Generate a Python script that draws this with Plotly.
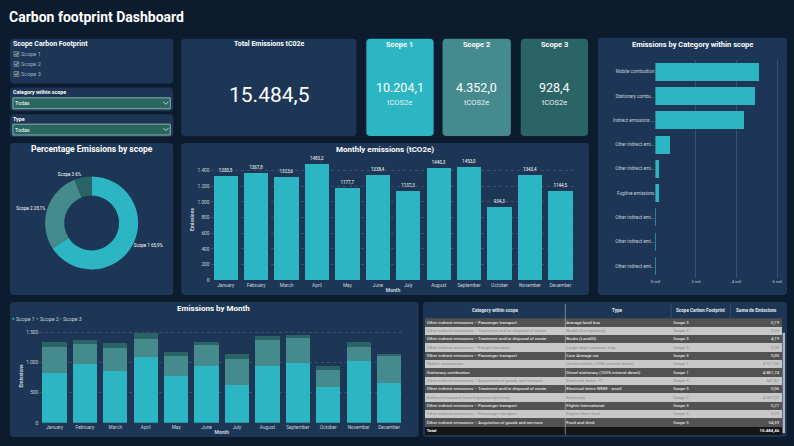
import plotly.graph_objects as go

W, H = 794, 446

# ---------------- data ----------------
months = ["January", "February", "March", "April", "May", "June", "July",
          "August", "September", "October", "November", "December"]
monthly_total = [1330.5, 1367.8, 1323.6, 1483.2, 1177.7, 1338.4, 1137.3,
                 1440.3, 1453.0, 934.3, 1343.4, 1144.5]
scope1_month = [819, 967, 857, 1082, 769, 934, 621, 934, 989, 588, 1022, 659]
scope2_month = [439, 341, 374, 308, 330, 346, 428, 440, 412, 286, 231, 445]
scope3_month = [72, 60, 93, 93, 79, 58, 88, 66, 52, 60, 90, 40]

scope_names = ["Scope 1", "Scope 2", "Scope 3"]
scope_totals = [10204.1, 4352.0, 928.4]
total_emissions = 15484.5

cat_labels = ["Mobile combustion", "Stationary combu...", "Indirect emissions ...",
              "Other indirect emi...", "Other indirect emi...", "Fugitive emissions",
              "Other indirect emi...", "Other indirect emi...", "Other indirect emi..."]
cat_values = [5100, 4930, 4352, 720, 180, 174, 15, 9, 4]
cat_tickvals = [0, 2000, 4000, 6000]
cat_ticktext = ["0 mil", "2 mil", "4 mil", "6 mil"]

tbl_headers = ["Category within scope", "Type", "Scope Carbon Footprint", "Suma de Emissions"]
tbl_category = [
    "Other indirect emissions – Passenger transport",
    "Other indirect emissions – Treatment and/or disposal of waste",
    "Other indirect emissions – Treatment and/or disposal of waste",
    "Other indirect emissions – Freight transport",
    "Other indirect emissions – Passenger transport",
    "Mobile combustion",
    "Stationary combustion",
    "Other indirect emissions – Acquisition of goods and services",
    "Other indirect emissions – Treatment and/or disposal of waste",
    "Indirect emissions from imported electricity",
    "Other indirect emissions – Passenger transport",
    "Other indirect emissions – Passenger transport",
    "Other indirect emissions – Acquisition of goods and services",
]
tbl_type = ["Average local bus", "Books (Composting)", "Books (Landfill)",
            "Cargo ship Container ship", "Cars Average car",
            "Diesel mobile (100% mineral diesel)", "Diesel stationary (100% mineral diesel)",
            "Electrical items - IT", "Electrical items WEEE - small", "Electricity",
            "Flights International", "Flights Short-haul", "Food and drink"]
tbl_scope = ["Scope 3", "Scope 3", "Scope 3", "Scope 3", "Scope 3", "Scope 1", "Scope 1",
             "Scope 3", "Scope 3", "Scope 2", "Scope 3", "Scope 3", "Scope 3"]
tbl_value = ["0,19", "0,03", "4,19", "0,00", "0,00", "4.911,56", "4.861,74",
             "347,81", "0,06", "4.351,97", "0,21", "0,29", "54,59"]
tbl_total = "15.484,46"

# ---------------- style ----------------
PAGE = "#0d1b2e"
PANEL = "#1d3655"
C1 = "#2cb6c3"
C2 = "#458b8e"
C3 = "#2b6466"
TXT = "#ffffff"
AX = "#c9d3dd"
FONT = "Roboto"


def px(x):
    return x / W


def py(y):
    return 1 - y / H


def eu(v, d=1):
    s = f"{v:,.{d}f}"
    return s.replace(",", "X").replace(".", ",").replace("X", ".")


def rrect(x0, y0, x1, y1, r=4):
    X = lambda v: px(v)
    Y = lambda v: py(v)
    return (f"M {X(x0+r)},{Y(y0)} L {X(x1-r)},{Y(y0)} Q {X(x1)},{Y(y0)} {X(x1)},{Y(y0+r)} "
            f"L {X(x1)},{Y(y1-r)} Q {X(x1)},{Y(y1)} {X(x1-r)},{Y(y1)} "
            f"L {X(x0+r)},{Y(y1)} Q {X(x0)},{Y(y1)} {X(x0)},{Y(y1-r)} "
            f"L {X(x0)},{Y(y0+r)} Q {X(x0)},{Y(y0)} {X(x0+r)},{Y(y0)} Z")


shapes = []


def panel(x0, y0, x1, y1, color=PANEL, r=4):
    shapes.append(dict(type="path", path=rrect(x0, y0, x1, y1, r), xref="paper", yref="paper",
                       fillcolor=color, line=dict(width=0), layer="below"))


annotations = []


def txt(x, y, s, size=7, color=TXT, xanchor="center", bold=False, family=FONT):
    annotations.append(dict(x=px(x), y=py(y), xref="paper", yref="paper", text=(f"<b>{s}</b>" if bold else s),
                            showarrow=False, xanchor=xanchor, yanchor="middle", borderpad=0,
                            font=dict(size=size, color=color, family=family)))


# panels
panel(5, 39, 170, 84)
panel(5, 88, 170, 112)
panel(5, 115, 170, 138)
panel(178, 39, 355, 137)
panel(365, 39, 433, 137, C1)
panel(442, 39, 511, 137, C2)
panel(521, 39, 589, 137, C3)
panel(599, 38, 790, 297)
panel(5, 144, 170, 297)
panel(178, 144, 590, 297)
panel(5, 304, 418, 440)
panel(422, 304, 790, 440)

# page title
txt(3, 17, "Carbon footprint Dashboard", size=14, xanchor="left", bold=True)

# slicers
txt(7, 44.5, "Scope Carbon Footprint", size=7, xanchor="left", bold=True)
for i, nm in enumerate(scope_names):
    yy = 54.5 + i * 10
    shapes.append(dict(type="rect", xref="paper", yref="paper", x0=px(9), x1=px(14), y0=py(yy + 2.5), y1=py(yy - 2.5),
                       fillcolor="#3c4650", line=dict(color="#9aa3ad", width=0.6)))
    shapes.append(dict(type="path", xref="paper", yref="paper",
                       path=f"M {px(10)},{py(yy)} L {px(11.3)},{py(yy+1.3)} L {px(13.2)},{py(yy-1.6)}",
                       line=dict(color="#e8eef2", width=0.7)))
    txt(15.5, yy, nm, size=5.5, color="#9fb0c0", xanchor="left")
for (ty, label, dy) in [(93, "Category within scope", 104), (119.5, "Type", 130.5)]:
    txt(7, ty, label, size=5.3, xanchor="left", bold=True)
    shapes.append(dict(type="rect", xref="paper", yref="paper", x0=px(8), x1=px(167), y0=py(dy + 5.5), y1=py(dy - 5.5),
                       fillcolor="#2a675f", line=dict(color="#a9c8c2", width=0.8)))
    txt(9, dy, "Todas", size=5.3, xanchor="left")
    shapes.append(dict(type="path", xref="paper", yref="paper",
                       path=f"M {px(160)},{py(dy-1.5)} L {px(162.5)},{py(dy+1)} L {px(165)},{py(dy-1.5)}",
                       line=dict(color="#e0e8ee", width=0.8)))

# KPI cards
txt(266.5, 44.5, "Total Emissions tC02e", size=7, bold=True)
txt(266.5, 96, eu(total_emissions), size=21)
for (cx, nm, v) in [(399, "Scope 1", scope_totals[0]), (476.5, "Scope 2", scope_totals[1]),
                    (555, "Scope 3", scope_totals[2])]:
    txt(cx, 45, nm, size=7.5, bold=True)
    txt(cx, 88.5, eu(v), size=12.5)
    txt(cx, 103, "tCOS2e", size=7.5, color="#e4eef2")

# chart titles
txt(694.5, 45, "Emissions by Category within scope", size=7.5, bold=True)
txt(88, 150.5, "Percentage Emissions by scope", size=8.5, bold=True)
txt(384, 150.5, "Monthly emissions (tCO2e)", size=8, bold=True)
txt(211, 310.5, "Emissions by Month", size=8, bold=True)

# legend for stacked chart
lx = 6
for nm, col in zip(scope_names, [C1, C2, C3]):
    txt(lx, 321, "●", size=4.5, color=col, xanchor="left")
    txt(lx + 4, 321, nm, size=5.2, color=AX, xanchor="left")
    lx += 24

fig = go.Figure()

# monthly emissions
fig.add_trace(go.Bar(x=months, y=monthly_total, marker=dict(color=C1, line=dict(width=0)),
                     texttemplate="%{y:.1f}", textposition="outside", cliponaxis=False,
                     textfont=dict(size=4.5, color=TXT, family=FONT), xaxis="x", yaxis="y",
                     showlegend=False))

# stacked by month
for nm, vals, col in zip(scope_names, [scope1_month, scope2_month, scope3_month], [C1, C2, C3]):
    fig.add_trace(go.Bar(x=months, y=vals, name=nm, marker=dict(color=col, line=dict(width=0)),
                         xaxis="x2", yaxis="y2", showlegend=False))

# category
fig.add_trace(go.Bar(y=list(range(len(cat_values))), x=cat_values, orientation="h",
                     marker=dict(color=C1, line=dict(width=0)), xaxis="x3", yaxis="y3",
                     showlegend=False, width=0.74))

# donut
pct = [v / sum(scope_totals) * 100 for v in scope_totals]
pct_txt = [f"{n} " + (f"{p:.1f}".replace(".", ",").replace(",0", "")) + "%" for n, p in zip(scope_names, pct)]
fig.add_trace(go.Pie(values=scope_totals, labels=scope_names, text=pct_txt, textinfo="text",
                     textposition="outside", hole=0.59, sort=False, direction="clockwise", rotation=0,
                     marker=dict(colors=[C1, C2, C3], line=dict(width=0)),
                     textfont=dict(size=4.5, color=TXT, family=FONT),
                     domain=dict(x=[px(40.5), px(134.5)], y=[py(271.5), py(177.5)]),
                     showlegend=False))

# table (rows drawn as bars + text on a dedicated axis pair)
n = len(tbl_category)
rows = list(range(n + 1))
dark, light = "#525252", "#c8c8c8"
fills = [dark if i % 2 == 0 else light for i in range(n)] + ["#151515"]
fcols = ["#ffffff" if i % 2 == 0 else "#8a8a8a" for i in range(n)] + ["#ffffff"]
TW = 361
fig.add_trace(go.Bar(y=rows, x=[TW] * (n + 1), orientation="h", width=1.0,
                     marker=dict(color=fills, line=dict(width=0)), xaxis="x4", yaxis="y4",
                     showlegend=False, hoverinfo="skip"))
col_cat = tbl_category + ["<b>Total</b>"]
col_type = tbl_type + [""]
col_scope = tbl_scope + [""]
col_val = tbl_value + [f"<b>{tbl_total}</b>"]
for vals, xpos, pos in [(col_cat, 2, "middle right"), (col_type, 143, "middle right"),
                        (col_scope, 251, "middle right"), (col_val, 358, "middle left")]:
    fig.add_trace(go.Scatter(x=[xpos] * (n + 1), y=rows, text=vals, mode="text", textposition=pos,
                             textfont=dict(size=4.3, color=fcols, family=FONT), xaxis="x4", yaxis="y4",
                             showlegend=False, cliponaxis=False, hoverinfo="skip"))
for hx, hd in zip([495, 619, 703, 759], tbl_headers):
    txt(hx, 312.5, hd, size=4.6, color="#e3eaf1", bold=True)

# table separators / scrollbar
shapes.append(dict(type="line", xref="paper", yref="paper", x0=px(566), x1=px(566), y0=py(306), y1=py(438),
                   line=dict(color="#b7c2cc", width=0.6)))
for sx in [673, 733]:
    shapes.append(dict(type="line", xref="paper", yref="paper", x0=px(sx), x1=px(sx), y0=py(306), y1=py(320),
                       line=dict(color="#3f5a78", width=0.6)))
shapes.append(dict(type="rect", xref="paper", yref="paper", x0=px(785.5), x1=px(788), y0=py(436), y1=py(335),
                   fillcolor="#aeb7c0", line=dict(width=0)))

tick = dict(size=4.8, color=AX, family=FONT)
grid = "rgba(255,255,255,0.13)"
hidden = dict(visible=False, showgrid=False, zeroline=False)
fig.update_layout(
    width=W, height=H, margin=dict(l=0, r=0, t=0, b=0),
    paper_bgcolor=PAGE, plot_bgcolor="rgba(0,0,0,0)",
    separators=",.", barmode="stack", bargap=0.2,
    font=dict(family=FONT, color=TXT),
    shapes=shapes, annotations=annotations,
    xaxis=dict(domain=[px(207.6), px(576.4)], anchor="y", tickfont=tick, tickangle=0, showgrid=False,
               title=dict(text="<b>Month</b>", font=dict(size=5, color=AX), standoff=1),
               ticks="", ticklabelstandoff=1),
    yaxis=dict(domain=[py(282), py(160)], anchor="x", range=[0, 1550], tickvals=list(range(0, 1401, 200)),
               tickformat=",d", tickfont=tick, gridcolor=grid, griddash="dot", zeroline=False,
               title=dict(text="<b>Emissions</b>", font=dict(size=5, color=AX), standoff=2)),
    xaxis2=dict(domain=[px(34.6), px(403.4)], anchor="y2", tickfont=tick, tickangle=0, showgrid=False,
                title=dict(text="<b>Month</b>", font=dict(size=5, color=AX), standoff=1), ticks=""),
    yaxis2=dict(domain=[py(425.7), py(331.3)], anchor="x2", range=[0, 1550], tickvals=[0, 500, 1000, 1500],
                tickformat=",d", tickfont=tick, gridcolor=grid, griddash="dot", zeroline=False,
                title=dict(text="<b>Emissions</b>", font=dict(size=5, color=AX), standoff=2)),
    xaxis3=dict(domain=[px(657), px(782)], anchor="y3", range=[0, 6100], tickvals=cat_tickvals,
                ticktext=cat_ticktext, tickfont=dict(size=4.3, color=AX, family=FONT), gridcolor=grid,
                zeroline=False),
    yaxis3=dict(domain=[py(280), py(60)], anchor="x3", range=[8.5, -0.5], tickvals=list(range(len(cat_labels))),
                ticktext=cat_labels, tickfont=dict(size=4.5, color=AX, family=FONT), showgrid=False,
                zeroline=False, ticks=""),
    xaxis4=dict(domain=[px(424), px(424 + TW)], anchor="y4", range=[0, TW], **hidden),
    yaxis4=dict(domain=[py(320.5 + 8.4 * (n + 1)), py(320.5)], anchor="x4", range=[n + 0.5, -0.5], **hidden),
)

fig.write_html("out.html")
